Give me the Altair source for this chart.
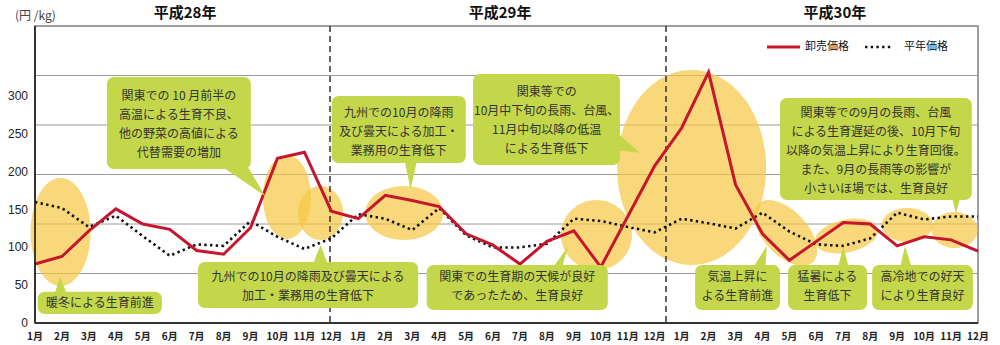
import altair as alt
import pandas as pd

# ---------------- data ----------------
month_names = ["1月", "2月", "3月", "4月", "5月", "6月", "7月", "8月", "9月", "10月", "11月", "12月"]
month_labels = month_names * 3          # 平成28年1月 … 平成30年12月
month_index = list(range(36))

wholesale = [78, 88, 122, 151, 131, 124, 96, 91, 126, 218, 226, 148,
             138, 169, 162, 154, 118, 103, 78, 108, 122, 74, 141, 208,
             258, 332, 183, 118, 83, 108, 133, 131, 102, 114, 110, 95]
normal = [160, 152, 127, 142, 115, 89, 104, 102, 135, 114, 98, 112,
          144, 138, 123, 152, 116, 100, 100, 105, 138, 135, 127, 120,
          138, 132, 125, 146, 121, 104, 102, 112, 146, 137, 141, 141]

y_ticks = [0, 50, 100, 150, 200, 250, 300]
grid_levels = [65.5, 131.0, 196.5, 262.0, 327.5]
year_dividers = [10.95, 23.42]
year_names = ["平成28年", "平成29年", "平成30年"]
year_centers = [5.57, 17.26, 29.69]

# highlight ellipses: centre (month index, 円/kg), radii in px, tilt
ell_cx = [0.95, 9.35, 10.60, 13.70, 20.84, 24.37, 27.86, 30.12, 32.38, 34.13]
ell_cy = [120.4, 166.7, 145.6, 145.6, 116.4, 205.8, 119.1, 115.1, 129.7, 123.1]
ell_rx = [30, 24, 22.5, 39, 35.5, 74.5, 40, 32, 25.5, 23]
ell_ry = [54, 42, 27, 27, 35, 97.5, 22, 16.5, 17, 18]
ell_angle = [0, 0, 0, 0, 0, 0, 47, -12, 0, 0]

# call-out boxes (month index / 円/kg); text anchored at its first line
box_text = [
    "暖冬による生育前進",
    "九州での10月の降雨及び曇天による\n加工・業務用の生育低下",
    "関東での生育期の天候が良好\nであったため、生育良好",
    "気温上昇に\nよる生育前進",
    "猛暑による\n生育低下",
    "高冷地での好天\nにより生育良好",
    "関東での 10 月前半の\n高温による生育不良、\n他の野菜の高値による\n代替需要の増加",
    "九州での10月の降雨\n及び曇天による加工・\n業務用の生育低下",
    "関東等での\n10月中下旬の長雨、台風、\n11月中旬以降の低温\nによる生育低下",
    "関東等での9月の長雨、台風\nによる生育遅延の後、10月下旬\n以降の気温上昇により生育回復。\nまた、9月の長雨等の影響が\n小さいほ場では、生育良好",
]
box_x1 = [0.10, 6.05, 14.54, 24.50, 27.95, 31.07, 2.67, 11.01, 16.26, 27.65]
box_x2 = [4.71, 14.22, 21.26, 27.65, 30.88, 34.81, 8.01, 15.99, 21.71, 34.77]
box_y1 = [11.9, 19.8, 17.2, 17.2, 17.2, 17.2, 203.8, 211.7, 209.1, 162.8]
box_y2 = [41.4, 80.7, 76.7, 76.7, 76.7, 76.7, 325.5, 300.4, 329.5, 297.7]
box_tx = [2.41, 10.13, 17.90, 26.07, 29.41, 32.94, 5.34, 13.50, 18.99, 31.21]
box_ty = [26.6, 60.9, 60.9, 60.9, 60.9, 60.9, 300.4, 277.9, 305.7, 277.9]

# pointer tips (month index / 円/kg) and their triangle shapes
ptr_x = [0.93, 10.60, 19.78, 27.16, 30.00, 32.29, 8.54, 13.94, 22.45, 34.18]
ptr_y = [61.3, 103.2, 100.6, 101.9, 101.9, 101.9, 168.0, 176.9, 225.3, 145.2]
ptr_shape = [
    "M 0 0 L -0.12 0.38 L 0.15 0.38 Z",
    "M 0 0 L -0.16 0.40 L 0.15 0.40 Z",
    "M 0 0 L -0.31 0.42 L -0.12 0.42 Z",
    "M 0 0 L -0.28 0.44 L -0.03 0.44 Z",
    "M 0 0 L -0.11 0.44 L 0.11 0.44 Z",
    "M 0 0 L -0.10 0.44 L 0.14 0.44 Z",
    "M 0 0 L -0.94 -0.64 L -0.38 -0.64 Z",
    "M 0 0 L -0.12 -0.58 L 0.13 -0.58 Z",
    "M 0 0 L -0.52 -0.46 L -0.52 -0.06 Z",
    "M 0 0 L -0.08 -0.32 L 0.09 -0.32 Z",
]

# ---------------- build ----------------
FONT = "Noto Sans CJK JP"
GREEN = "#C4D74B"
YELLOW = "#F5C842"
RED = "#C5162E"
W, H = 943, 297

xs = alt.Scale(domain=[0, 35], nice=False, zero=False)
ys = alt.Scale(domain=[0, 393], nice=False, zero=True)

def X(f):
    return alt.X(f, scale=xs, axis=None)

def Y(f):
    return alt.Y(f, scale=ys, axis=None)

price_df = pd.DataFrame({"idx": month_index, "wholesale": wholesale, "normal": normal})

ell_paths = []
ell_sizes = []
for rx, ry in zip(ell_rx, ell_ry):
    r = max(rx, ry)
    a, b = rx / r, ry / r
    ell_paths.append(f"M {-a:.4f} 0 A {a:.4f} {b:.4f} 0 1 0 {a:.4f} 0 A {a:.4f} {b:.4f} 0 1 0 {-a:.4f} 0 Z")
    ell_sizes.append(4 * r * r)
ell_df = pd.DataFrame({"cx": ell_cx, "cy": ell_cy, "path": ell_paths, "size": ell_sizes, "angle": ell_angle})

box_df = pd.DataFrame({"x1": box_x1, "x2": box_x2, "y1": box_y1, "y2": box_y2,
                       "tx": box_tx, "ty": box_ty, "text": box_text})
ptr_df = pd.DataFrame({"px": ptr_x, "py": ptr_y, "shape": ptr_shape})
one = pd.DataFrame({"k": [0]})

grid = alt.Chart(pd.DataFrame({"g": grid_levels})).mark_rule(color="#9a9a9a", strokeWidth=1).encode(y=Y("g:Q"))

ellipses = alt.Chart(ell_df).mark_point(filled=True, fill=YELLOW, fillOpacity=0.7, strokeWidth=0, opacity=1).encode(
    x=X("cx:Q"), y=Y("cy:Q"),
    shape=alt.Shape("path:N", scale=None, legend=None),
    size=alt.Size("size:Q", scale=None, legend=None),
    angle=alt.Angle("angle:Q", scale=None),
)

dividers = alt.Chart(pd.DataFrame({"d": year_dividers})).mark_rule(
    color="#333333", strokeWidth=1.5, strokeDash=[6, 4]).encode(x=X("d:Q"))

normal_line = alt.Chart(price_df).mark_line(
    color="#111111", strokeWidth=2.6, strokeDash=[2.4, 3.3]).encode(
    x=X("idx:Q"), y=Y("normal:Q"))

wholesale_line = alt.Chart(price_df).mark_line(color=RED, strokeWidth=3).encode(
    x=X("idx:Q"), y=Y("wholesale:Q"))

boxes = alt.Chart(box_df).mark_rect(color=GREEN, cornerRadius=7).encode(
    x=X("x1:Q"), x2="x2:Q", y=Y("y1:Q"), y2="y2:Q")

pointers = alt.Chart(ptr_df).mark_point(filled=True, fill=GREEN, strokeWidth=0, opacity=1).encode(
    x=X("px:Q"), y=Y("py:Q"),
    shape=alt.Shape("shape:N", scale=None, legend=None),
    size=alt.value(10000),
)

box_labels = alt.Chart(box_df).mark_text(
    font=FONT, fontSize=12, color="#333333", lineBreak="\n", lineHeight=19,
    align="center", baseline="middle").encode(
    x=X("tx:Q"), y=Y("ty:Q"), text="text:N")

# axes drawn by hand (domain lines + tick labels from the lists)
left_domain = alt.Chart(one).mark_rule(color="#111111", strokeWidth=1.5).encode(
    x=alt.value(0), y=alt.value(0), y2=alt.value(H))
bottom_domain = alt.Chart(one).mark_rule(color="#111111", strokeWidth=1.5).encode(
    x=alt.value(0), x2=alt.value(W), y=alt.value(H))
x_labels = alt.Chart(pd.DataFrame({"idx": month_index, "lab": month_labels})).mark_text(
    font=FONT, fontSize=10, fontWeight="bold", color="#222222", align="center", baseline="middle").encode(
    x=X("idx:Q"), y=alt.value(H + 14), text="lab:N")
y_labels = alt.Chart(pd.DataFrame({"v": y_ticks})).mark_text(
    font="Liberation Sans", fontSize=12, color="#222222", align="right", baseline="middle").encode(
    x=alt.value(-7), y=Y("v:Q"), text="v:Q")

years = alt.Chart(pd.DataFrame({"name": year_names, "c": year_centers})).mark_text(
    font=FONT, fontSize=15, fontWeight="bold", color="#111111", align="center", baseline="middle").encode(
    x=X("c:Q"), y=alt.value(-13), text="name:N")

unit = alt.Chart(pd.DataFrame({"t": ["(円 /kg)"]})).mark_text(
    font=FONT, fontSize=12, color="#444444", align="left", baseline="middle").encode(
    x=alt.value(-20), y=alt.value(-10), text="t:N")

leg_red = alt.Chart(one).mark_rule(color=RED, strokeWidth=3).encode(
    x=alt.value(732), x2=alt.value(765), y=alt.value(21))
leg_dot = alt.Chart(one).mark_rule(
    color="#111111", strokeWidth=2.6, strokeDash=[2.4, 3.3]).encode(
    x=alt.value(830), x2=alt.value(857), y=alt.value(21))
leg_t1 = alt.Chart(pd.DataFrame({"t": ["卸売価格"]})).mark_text(
    font=FONT, fontSize=11, color="#111111", align="left", baseline="middle").encode(
    x=alt.value(770), y=alt.value(21), text="t:N")
leg_t2 = alt.Chart(pd.DataFrame({"t": ["平年価格"]})).mark_text(
    font=FONT, fontSize=11, color="#111111", align="left", baseline="middle").encode(
    x=alt.value(869), y=alt.value(21), text="t:N")

chart = alt.layer(
    grid, ellipses, dividers, normal_line, wholesale_line, boxes, pointers, box_labels,
    left_domain, bottom_domain, x_labels, y_labels,
    years, unit, leg_red, leg_dot, leg_t1, leg_t2,
).properties(
    width=W, height=H,
    padding={"left": 35, "top": 26, "right": 22, "bottom": 22},
    autosize=alt.AutoSizeParams(type="none"),
    background="white",
).configure_view(stroke="#7f7f7f", strokeWidth=1.5)

chart.save("out.html", embed_options={"renderer": "svg", "actions": False})
